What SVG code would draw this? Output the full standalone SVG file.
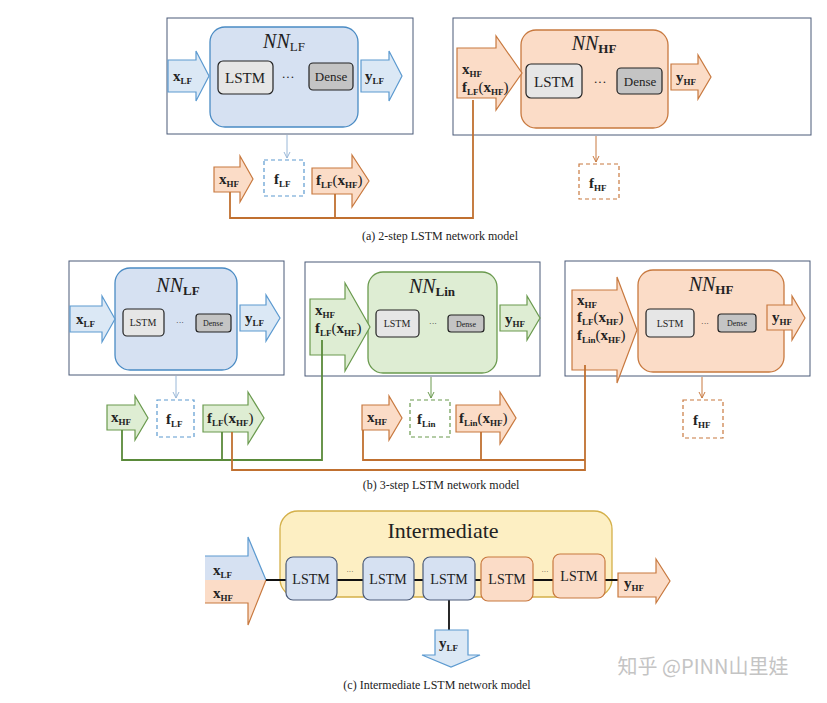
<svg xmlns="http://www.w3.org/2000/svg" width="827" height="703" viewBox="0 0 827 703">
<style>
text{font-family:"Liberation Serif","DejaVu Serif",serif;fill:#222}
.t{font-size:15px}
.s{font-size:9px}
.b{font-weight:bold}
.outer{fill:#fff;stroke:#4a5a78;stroke-width:1}
.nnb{fill:#d6e1f2;stroke:#4a8bc4;stroke-width:1.3}
.nno{fill:#fbdcc7;stroke:#c8793f;stroke-width:1.3}
.nng{fill:#deedd3;stroke:#6a9a4e;stroke-width:1.3}
.ab{fill:#dbe8f5;stroke:#5c9ad0;stroke-width:1.2}
.ao{fill:#fbdcc7;stroke:#c8793f;stroke-width:1.2}
.ag{fill:#deedd3;stroke:#6a9a4e;stroke-width:1.2}
.lstm{fill:#e6e6e6;stroke:#222;stroke-width:1.2}
.dense{fill:#c4c4c4;stroke:#222;stroke-width:1.2}
.db{fill:#fff;stroke:#5c9ad0;stroke-dasharray:4 3;stroke-width:1.2}
.do{fill:#fff;stroke:#c8793f;stroke-dasharray:4 3;stroke-width:1.2}
.dg{fill:#fff;stroke:#6a9a4e;stroke-dasharray:4 3;stroke-width:1.2}
.cg{fill:none;stroke:#5a8a3a;stroke-width:1.8}
.co{fill:none;stroke:#c07030;stroke-width:1.8}
.ck{fill:none;stroke:#111;stroke-width:1.8}
.pb{stroke:#9ab8d8;stroke-width:1;fill:none}
.po{stroke:#c8793f;stroke-width:1;fill:none}
.pg{stroke:#6a9a4e;stroke-width:1;fill:none}
.cap{font-size:12px}
</style>
<defs>
<marker id="mb" markerWidth="8" markerHeight="8" refX="7" refY="4" orient="auto"><path d="M1,1 L7,4 L1,7" fill="none" stroke="#9ab8d8"/></marker>
<marker id="mo" markerWidth="8" markerHeight="8" refX="7" refY="4" orient="auto"><path d="M1,1 L7,4 L1,7" fill="none" stroke="#c8793f"/></marker>
<marker id="mg" markerWidth="8" markerHeight="8" refX="7" refY="4" orient="auto"><path d="M1,1 L7,4 L1,7" fill="none" stroke="#6a9a4e"/></marker>
</defs>

<!-- ===== (a) ===== -->
<g id="a-lf">
<rect class="outer" x="167" y="18" width="246" height="116"/>
<rect class="nnb" x="210" y="27" width="148" height="100" rx="15"/>
<text x="284" y="48" font-size="20" font-style="italic" text-anchor="middle">NN<tspan font-style="normal" font-size="13" dy="3">LF</tspan></text>
<path class="ab" d="M168,60 H196 V51 L209,76 L196,101 V92 H168 Z"/>
<text class="t b" x="173" y="81">x<tspan class="s" dy="3">LF</tspan></text>
<rect class="lstm" x="218" y="61" width="55" height="33" rx="5"/>
<text x="245" y="83" font-size="15" text-anchor="middle">LSTM</text>
<text x="288" y="81" font-size="13" text-anchor="middle">···</text>
<rect class="dense" x="309" y="63" width="44" height="27" rx="4"/>
<text x="331" y="81" font-size="13" text-anchor="middle">Dense</text>
<path class="ab" d="M361,60 H389 V51 L402,76 L389,101 V92 H361 Z"/>
<text class="t b" x="365" y="81">y<tspan class="s" dy="3">LF</tspan></text>
</g>
<g id="a-hf">
<rect class="outer" x="453" y="18" width="358" height="117"/>
<rect class="nno" x="521" y="30" width="147" height="98" rx="15"/>
<text x="594" y="50" font-size="20" font-style="italic" text-anchor="middle">NN<tspan font-style="normal" font-size="13" font-weight="bold" dy="3">HF</tspan></text>
<path class="ao" d="M457,48 H496 V36 L522,73 L496,110 V98 H457 Z"/>
<text class="t b" x="462" y="74">x<tspan class="s" dy="3">HF</tspan></text>
<text class="t b" x="462" y="92">f<tspan class="s" dy="3">LF</tspan><tspan dy="-3" font-weight="normal">(</tspan>x<tspan class="s" dy="3">HF</tspan><tspan dy="-3" font-weight="normal">)</tspan></text>
<rect class="lstm" x="526" y="64" width="56" height="34" rx="5"/>
<text x="554" y="87" font-size="15" text-anchor="middle">LSTM</text>
<text x="600" y="86" font-size="13" text-anchor="middle">···</text>
<rect class="dense" x="617" y="68" width="45" height="26" rx="4"/>
<text x="640" y="86" font-size="13" text-anchor="middle">Dense</text>
<path class="ao" d="M671,64 H698 V55 L711,77 L698,99 V90 H671 Z"/>
<text class="t b" x="676" y="82">y<tspan class="s" dy="3">HF</tspan></text>
</g>
<g id="a-below">
<rect class="db" x="264" y="160" width="40" height="36"/>
<text class="t b" x="274" y="184">f<tspan class="s" dy="3">LF</tspan></text>
<path class="ao" d="M214,167 H240 V156 L253,179 L240,202 V192 H214 Z"/>
<text class="t b" x="219" y="184">x<tspan class="s" dy="3">HF</tspan></text>
<path class="ao" d="M312,168 H352 V155 L369,181 L352,207 V194 H312 Z"/>
<text class="t b" x="316" y="185">f<tspan class="s" dy="3">LF</tspan><tspan dy="-3" font-weight="normal">(</tspan>x<tspan class="s" dy="3">HF</tspan><tspan dy="-3" font-weight="normal">)</tspan></text>
<rect class="do" x="579" y="164" width="40" height="35"/>
<text class="t b" x="589" y="188">f<tspan class="s" dy="3">HF</tspan></text>
</g>
<g id="a-connectors">
<line class="pb" x1="287" y1="135" x2="287" y2="158" marker-end="url(#mb)"/>
<line class="po" x1="596" y1="136" x2="596" y2="162" marker-end="url(#mo)"/>
<path class="co" d="M230,192 V218 H473 V100"/>
<path class="co" d="M335,194 V218"/>
</g>
<text class="cap" x="440" y="240" text-anchor="middle">(a) 2-step LSTM network model</text>

<!-- ===== (b) ===== -->
<g id="b-lf">
<rect class="outer" x="69" y="261" width="215" height="114"/>
<rect class="nnb" x="115" y="268" width="122" height="102" rx="15"/>
<text x="178" y="292" font-size="20" font-style="italic" text-anchor="middle">NN<tspan font-style="normal" font-size="13" font-weight="bold" dy="3">LF</tspan></text>
<path class="ab" d="M70,306 H102 V296 L115,319 L102,342 V332 H70 Z"/>
<text class="t b" x="76" y="324">x<tspan class="s" dy="3">LF</tspan></text>
<rect class="lstm" x="123" y="309" width="41" height="27" rx="4"/>
<text x="143" y="326" font-size="10" text-anchor="middle">LSTM</text>
<text x="180" y="325" font-size="8" text-anchor="middle">···</text>
<rect class="dense" x="196" y="314" width="35" height="18" rx="3"/>
<text x="213" y="326" font-size="8" text-anchor="middle">Dense</text>
<path class="ab" d="M240,305 H266 V295 L280,318 L266,341 V331 H240 Z"/>
<text class="t b" x="245" y="323">y<tspan class="s" dy="3">LF</tspan></text>
</g>
<g id="b-lin">
<rect class="outer" x="305" y="262" width="235" height="114"/>
<rect class="nng" x="368" y="272" width="129" height="101" rx="15"/>
<text x="432" y="293" font-size="20" font-style="italic" text-anchor="middle">NN<tspan font-style="normal" font-size="13" font-weight="bold" dy="3">Lin</tspan></text>
<path class="ag" d="M310,299 H345 V283 L370,327 L345,371 V355 H310 Z"/>
<text class="t b" x="315" y="315">x<tspan class="s" dy="3">HF</tspan></text>
<text class="t b" x="315" y="333">f<tspan class="s" dy="3">LF</tspan><tspan dy="-3" font-weight="normal">(</tspan>x<tspan class="s" dy="3">HF</tspan><tspan dy="-3" font-weight="normal">)</tspan></text>
<rect class="lstm" x="376" y="310" width="43" height="27" rx="4"/>
<text x="397" y="327" font-size="10" text-anchor="middle">LSTM</text>
<text x="433" y="326" font-size="8" text-anchor="middle">···</text>
<rect class="dense" x="448" y="315" width="36" height="17" rx="3"/>
<text x="466" y="327" font-size="8" text-anchor="middle">Dense</text>
<path class="ag" d="M500,305 H527 V296 L540,318 L527,340 V331 H500 Z"/>
<text class="t b" x="505" y="324">y<tspan class="s" dy="3">HF</tspan></text>
</g>
<g id="b-hf">
<rect class="outer" x="565" y="261" width="245" height="115"/>
<rect class="nno" x="638" y="270" width="146" height="102" rx="15"/>
<text x="711" y="291" font-size="20" font-style="italic" text-anchor="middle">NN<tspan font-style="normal" font-size="13" font-weight="bold" dy="3">HF</tspan></text>
<path class="ao" d="M572,290 H617 V277 L637,330 L617,383 V370 H572 Z"/>
<text class="t b" x="577" y="305">x<tspan class="s" dy="3">HF</tspan></text>
<text class="t b" x="577" y="322">f<tspan class="s" dy="3">LF</tspan><tspan dy="-3" font-weight="normal">(</tspan>x<tspan class="s" dy="3">HF</tspan><tspan dy="-3" font-weight="normal">)</tspan></text>
<text class="t b" x="577" y="340">f<tspan class="s" dy="3">Lin</tspan><tspan dy="-3" font-weight="normal">(</tspan>x<tspan class="s" dy="3">HF</tspan><tspan dy="-3" font-weight="normal">)</tspan></text>
<rect class="lstm" x="646" y="309" width="48" height="28" rx="4"/>
<text x="670" y="327" font-size="10" text-anchor="middle">LSTM</text>
<text x="705" y="326" font-size="8" text-anchor="middle">···</text>
<rect class="dense" x="718" y="314" width="38" height="18" rx="3"/>
<text x="737" y="326" font-size="8" text-anchor="middle">Dense</text>
<path class="ao" d="M767,305 H792 V296 L805,318 L792,340 V330 H767 Z"/>
<text class="t b" x="772" y="322">y<tspan class="s" dy="3">HF</tspan></text>
</g>
<g id="b-below">
<path class="ag" d="M107,405 H135 V396 L148,418 L135,440 V430 H107 Z"/>
<text class="t b" x="111" y="422">x<tspan class="s" dy="3">HF</tspan></text>
<rect class="db" x="157" y="400" width="37" height="37"/>
<text class="t b" x="166" y="424">f<tspan class="s" dy="3">LF</tspan></text>
<path class="ag" d="M203,405 H248 V392 L264,418 L248,444 V432 H203 Z"/>
<text class="t b" x="207" y="423">f<tspan class="s" dy="3">LF</tspan><tspan dy="-3" font-weight="normal">(</tspan>x<tspan class="s" dy="3">HF</tspan><tspan dy="-3" font-weight="normal">)</tspan></text>
<path class="ao" d="M362,405 H389 V396 L402,418 L389,440 V430 H362 Z"/>
<text class="t b" x="367" y="422">x<tspan class="s" dy="3">HF</tspan></text>
<rect class="dg" x="410" y="400" width="40" height="37"/>
<text class="t b" x="417" y="424">f<tspan class="s" dy="3">Lin</tspan></text>
<path class="ao" d="M456,405 H500 V392 L516,418 L500,444 V432 H456 Z"/>
<text class="t b" x="459" y="423">f<tspan class="s" dy="3">Lin</tspan><tspan dy="-3" font-weight="normal">(</tspan>x<tspan class="s" dy="3">HF</tspan><tspan dy="-3" font-weight="normal">)</tspan></text>
<rect class="do" x="683" y="400" width="40" height="38"/>
<text class="t b" x="693" y="425">f<tspan class="s" dy="3">HF</tspan></text>
</g>
<g id="b-connectors">
<line class="pb" x1="176" y1="376" x2="176" y2="398" marker-end="url(#mb)"/>
<line class="pg" x1="431" y1="377" x2="431" y2="398" marker-end="url(#mg)"/>
<line class="po" x1="702" y1="377" x2="702" y2="398" marker-end="url(#mo)"/>
<path class="cg" d="M122,430 V460 H322 V340"/>
<path class="cg" d="M222,432 V460"/>
<path class="co" d="M232,432 V470 H585 V365"/>
<path class="co" d="M363,430 V460 H585"/>
<path class="co" d="M481,432 V460"/>
</g>
<text class="cap" x="441" y="489" text-anchor="middle">(b) 3-step LSTM network model</text>

<!-- ===== (c) ===== -->
<g id="c-intermediate">
<rect x="280" y="511" width="332" height="86" rx="18" fill="#fdefc3" stroke="#d4b04a" stroke-width="1.3"/>
<text x="443" y="538" font-size="22" text-anchor="middle">Intermediate</text>
</g>
<g id="c-input">
<path d="M205,556 H248 V537 L266,580 H205 Z" fill="#d6e1f2" stroke="none"/>
<path d="M205,580 H266 L248,625 V603 H205 Z" fill="#fbdcc7" stroke="none"/>
<path d="M205,556 H248 V537 L266,580" fill="none" stroke="#5c9ad0" stroke-width="1.2"/>
<path d="M266,580 L248,625 V603 H205" fill="none" stroke="#c8793f" stroke-width="1.2"/>
<text class="t b" x="213" y="575">x<tspan class="s" dy="3">LF</tspan></text>
<text class="t b" x="213" y="598">x<tspan class="s" dy="3">HF</tspan></text>
</g>
<g id="c-connectors">
<path class="ck" d="M266,580 H618"/>
<path class="ck" d="M449,600 V630"/>
</g>
<g id="c-lstm1"><rect x="286" y="557" width="51" height="43" rx="7" fill="#d6e1f2" stroke="#4a5a78" stroke-width="1.2"/><text x="311" y="584" font-size="14" text-anchor="middle">LSTM</text></g>
<text x="350" y="574" font-size="7" text-anchor="middle" fill="#888">···</text>
<g id="c-lstm2"><rect x="363" y="557" width="51" height="43" rx="7" fill="#d6e1f2" stroke="#4a5a78" stroke-width="1.2"/><text x="388" y="584" font-size="14" text-anchor="middle">LSTM</text></g>
<g id="c-lstm3"><rect x="423" y="557" width="52" height="43" rx="7" fill="#d6e1f2" stroke="#4a5a78" stroke-width="1.2"/><text x="449" y="584" font-size="14" text-anchor="middle">LSTM</text></g>
<g id="c-lstm4"><rect x="481" y="557" width="52" height="44" rx="7" fill="#fbdcc7" stroke="#c8793f" stroke-width="1.2"/><text x="507" y="584" font-size="14" text-anchor="middle">LSTM</text></g>
<text x="545" y="574" font-size="7" text-anchor="middle" fill="#888">···</text>
<g id="c-lstm5"><rect x="553" y="554" width="52" height="44" rx="7" fill="#fbdcc7" stroke="#c8793f" stroke-width="1.2"/><text x="579" y="581" font-size="14" text-anchor="middle">LSTM</text></g>
<g id="c-yhf">
<path class="ao" d="M618,573 H656 V559 L670,581 L656,603 V597 H618 Z"/>
<text class="t b" x="624" y="588">y<tspan class="s" dy="3">HF</tspan></text>
</g>
<g id="c-ylf">
<path class="ab" d="M435,630 H468 V655 H480 L451,667 L422,655 H435 Z"/>
<text class="t b" x="439" y="648">y<tspan class="s" dy="3">LF</tspan></text>
</g>
<text x="703" y="674" font-size="20" fill="#bbb" style="font-family:'Noto Sans CJK SC','Noto Sans',sans-serif;fill:#c4c4c4" text-anchor="middle">知乎 @PINN山里娃</text>
<text class="cap" x="437" y="689" text-anchor="middle">(c) Intermediate LSTM network model</text>
</svg>
